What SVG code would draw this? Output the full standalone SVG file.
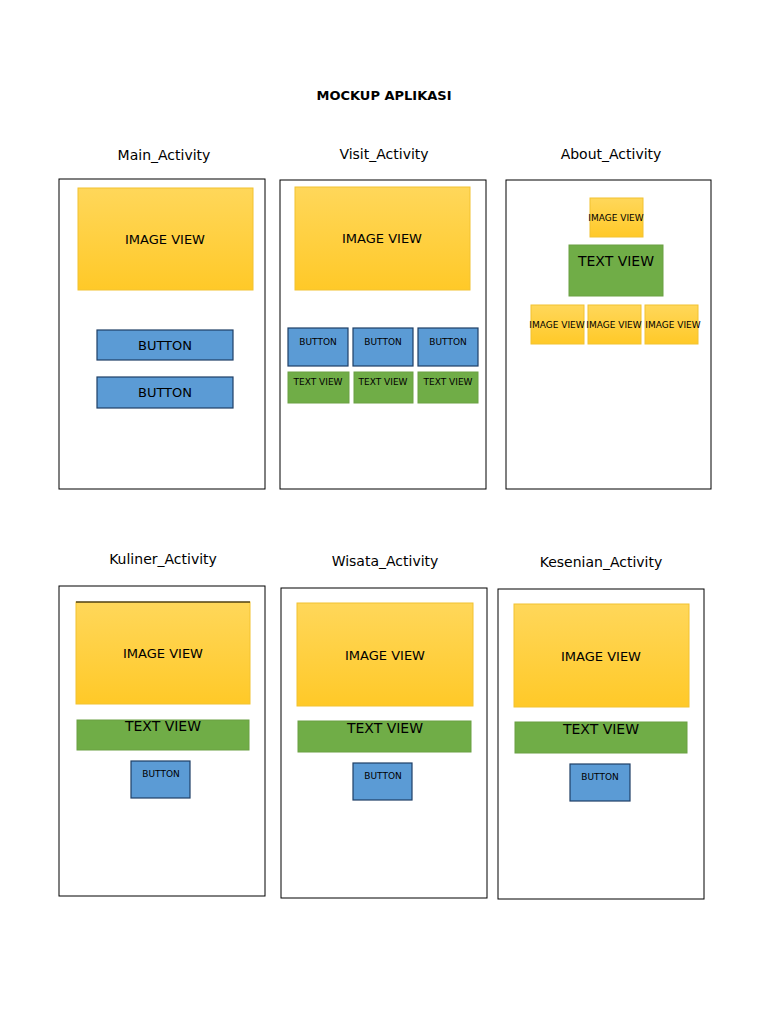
<svg xmlns="http://www.w3.org/2000/svg" width="768" height="1024" viewBox="0 0 768 1024">
<defs><linearGradient id="g" x1="0" y1="0" x2="0" y2="1"><stop offset="0" stop-color="#FFD75A"/><stop offset="1" stop-color="#FFC928"/></linearGradient></defs>
<style>
text{font-family:"DejaVu Sans",sans-serif;fill:#000;text-anchor:middle}
.f{fill:#fff;stroke:#000;stroke-width:1}
.i{fill:url(#g);stroke:#F2C230;stroke-width:1}
.t{fill:#70AD47;stroke:#6AA043;stroke-width:1}
.b{fill:#5B9BD5;stroke:#1F3F66;stroke-width:1.2}
.l{font-size:14px}.m{font-size:13px}.s{font-size:10px}.xs{font-size:9px}
</style>
<rect width="768" height="1024" fill="#fff"/>
<text x="384" y="100" font-size="13" font-weight="bold">MOCKUP APLIKASI</text>
<g id="main"><text class="l" x="164" y="160">Main_Activity</text><rect class="f" x="59" y="179" width="206" height="310"/>
<rect class="i" x="78" y="188" width="175" height="102"/><text class="m" x="165" y="244">IMAGE VIEW</text>
<rect class="b" x="97" y="330" width="136" height="30"/><text class="m" x="165" y="350">BUTTON</text>
<rect class="b" x="97" y="377" width="136" height="31"/><text class="m" x="165" y="397">BUTTON</text></g>
<g id="visit"><text class="l" x="384" y="159">Visit_Activity</text><rect class="f" x="280" y="180" width="206" height="309" stroke-width="1.6"/>
<rect class="i" x="295" y="187" width="175" height="103"/><text class="m" x="382" y="243">IMAGE VIEW</text>
<rect class="b" x="288" y="328" width="60" height="38"/><text class="xs" x="318" y="345">BUTTON</text>
<rect class="b" x="353" y="328" width="60" height="38"/><text class="xs" x="383" y="345">BUTTON</text>
<rect class="b" x="418" y="328" width="60" height="38"/><text class="xs" x="448" y="345">BUTTON</text>
<rect class="t" x="288" y="372" width="61" height="31"/><text class="xs" x="318" y="385">TEXT VIEW</text>
<rect class="t" x="354" y="372" width="59" height="31"/><text class="xs" x="383" y="385">TEXT VIEW</text>
<rect class="t" x="418" y="372" width="60" height="31"/><text class="xs" x="448" y="385">TEXT VIEW</text></g>
<g id="about"><text class="l" x="611" y="159">About_Activity</text><rect class="f" x="506" y="180" width="205" height="309"/>
<rect class="i" x="590" y="198" width="53" height="39"/><text class="xs" x="616" y="221">IMAGE VIEW</text>
<rect class="t" x="569" y="245" width="94" height="51"/><text class="l" x="616" y="266">TEXT VIEW</text>
<rect class="i" x="531" y="305" width="53" height="39"/><text class="xs" x="557" y="328">IMAGE VIEW</text>
<rect class="i" x="588" y="305" width="53" height="39"/><text class="xs" x="614" y="328">IMAGE VIEW</text>
<rect class="i" x="645" y="305" width="53" height="39"/><text class="xs" x="673" y="328">IMAGE VIEW</text></g>
<g id="kuliner"><text class="l" x="163" y="564">Kuliner_Activity</text><rect class="f" x="59" y="586" width="206" height="310"/>
<rect class="i" x="76" y="602" width="174" height="102"/><line x1="76" y1="602" x2="250" y2="602" stroke="#000"/><text class="m" x="163" y="658">IMAGE VIEW</text>
<rect class="t" x="77" y="720" width="172" height="30"/><text class="l" x="163" y="731">TEXT VIEW</text>
<rect class="b" x="131" y="761" width="59" height="37"/><text class="xs" x="161" y="777">BUTTON</text></g>
<g id="wisata"><text class="l" x="385" y="566">Wisata_Activity</text><rect class="f" x="281" y="588" width="206" height="310"/>
<rect class="i" x="297" y="603" width="176" height="103"/><text class="m" x="385" y="660">IMAGE VIEW</text>
<rect class="t" x="298" y="721" width="173" height="31"/><text class="l" x="385" y="733">TEXT VIEW</text>
<rect class="b" x="353" y="763" width="59" height="37"/><text class="xs" x="383" y="779">BUTTON</text></g>
<g id="kesenian"><text class="l" x="601" y="567">Kesenian_Activity</text><rect class="f" x="498" y="589" width="206" height="310"/>
<rect class="i" x="514" y="604" width="175" height="103"/><text class="m" x="601" y="661">IMAGE VIEW</text>
<rect class="t" x="515" y="722" width="172" height="31"/><text class="l" x="601" y="734">TEXT VIEW</text>
<rect class="b" x="570" y="764" width="60" height="37"/><text class="xs" x="600" y="780">BUTTON</text></g>
<g id="connectors"/>
</svg>
